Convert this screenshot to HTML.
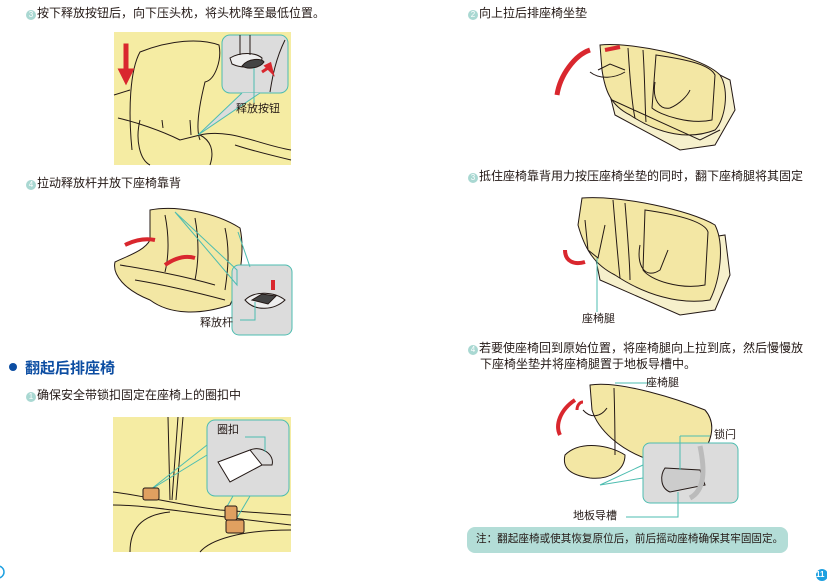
<!DOCTYPE html>
<html><head><meta charset="utf-8"><style>
body{margin:0;width:827px;height:586px;background:#fff;position:relative;overflow:hidden;font-family:"Liberation Sans","Noto Sans CJK SC",sans-serif;color:#231815}
.t{position:absolute;font-size:12px;line-height:15px;white-space:nowrap}
.n{display:inline-block;width:10px;height:10px;border-radius:50%;background:#a9d8d2;color:#fff;font-size:8px;line-height:10px;text-align:center;vertical-align:0px;margin-right:1px}
.l{position:absolute;font-size:11px;line-height:13px;white-space:nowrap}
svg{position:absolute;left:0;top:0}
</style></head><body>
<svg width="827" height="586" viewBox="0 0 827 586">
<g stroke="#231815" stroke-width="1" fill="none">
<!-- image 1 -->
<rect x="114" y="32" width="177" height="133" fill="#f5eca3" stroke="none"/>
<path d="M132 150 C128 110 130 70 140 52 C170 40 200 38 219 45 C222 60 215 80 205 82 C198 110 196 130 200 140" fill="#f5eca3"/>
<path d="M114 95 L130 90 M118 118 C135 122 160 130 180 140 L200 135 C230 128 260 145 291 150"/>
<path d="M140 120 C135 140 140 160 150 165 M200 135 C210 140 215 150 210 165 M162 120 L163 128 M190 120 L191 135"/>
<path d="M235 145 C250 150 270 155 291 160"/>
<rect x="222" y="35" width="66" height="58" rx="8" fill="#dcdcdc" stroke="#4dbdb0"/>
<path d="M240 35 L240 55 M250 35 L250 55 M230 58 C240 52 255 52 262 58 C262 66 245 70 232 64 Z" fill="#eee"/>
<path d="M242 66 C248 58 262 58 264 62 C260 68 248 70 242 66Z" fill="#444"/>
<path d="M285 40 C275 60 272 80 270 92"/>
<path d="M242 93 L198 135 L260 93" stroke="#4dbdb0" fill="#dcdcdc"/>
<path d="M254 68 L254 103" stroke="#4dbdb0"/>
<path d="M125 45 L125 70 L120 70 L126 82 L132 70 L127 70 L127 45Z" fill="#d9272e" stroke="#d9272e" stroke-width="3"/>
<path d="M262 72 L268 68 M266 66 L272 72 L270 64Z" stroke="#d9272e" stroke-width="3" fill="#d9272e"/>
<!-- image 2 -->
<path d="M150 210 C175 205 215 212 240 228 C245 250 240 285 230 305 C200 315 170 315 150 300 C125 290 112 275 115 262 C130 255 145 250 150 240 Z" fill="#f3e7a4"/>
<path d="M120 265 C150 270 180 275 215 285 M135 280 C165 285 195 292 225 300 M165 215 C170 240 168 260 165 272 M195 218 C200 245 198 265 195 280 M225 228 C230 250 228 270 225 290"/>
<rect x="232" y="265" width="60" height="70" rx="7" fill="#dcdcdc" stroke="#4dbdb0"/>
<path d="M175 212 L237 285 L237 270 Z" stroke="#4dbdb0" fill="none"/>
<path d="M238 232 L250 267" stroke="#4dbdb0"/>
<path d="M245 300 C255 290 275 292 285 300 C275 310 255 312 245 300Z" fill="#eee"/>
<path d="M252 300 L262 294 L276 296 L268 304 Z" fill="#444"/>
<path d="M240 320 L255 320 L255 302" stroke="#4dbdb0"/>
<path d="M155 240 C145 238 135 240 125 245" stroke="#d9272e" stroke-width="4"/>
<path d="M195 258 C185 255 175 258 165 265" stroke="#d9272e" stroke-width="4"/>
<path d="M273 290 L273 280" stroke="#d9272e" stroke-width="4"/>
<!-- image 3 -->
<rect x="113" y="417" width="178" height="135" fill="#f5eca3" stroke="none"/>
<path d="M113 492 C140 495 180 505 220 510 L291 515 M113 505 C150 505 200 515 291 525 M130 552 C130 530 140 515 170 512 M200 552 C210 540 240 530 291 530 M168 417 L170 500 M183 417 L176 500 M178 417 L172 500"/>
<rect x="207" y="420" width="82" height="76" rx="8" fill="#dcdcdc" stroke="#4dbdb0"/>
<path d="M150 490 L207 445 L207 455 Z M225 510 L233 496 M237 518 L250 496" stroke="#4dbdb0" fill="none"/>
<path d="M218 462 L250 450 L262 465 L230 482 Z" fill="#fff"/>
<path d="M250 450 C262 445 275 455 272 465 L262 465"/>
<path d="M245 437 L265 437 L265 452" stroke="#4dbdb0"/>
<rect x="143" y="488" width="16" height="12" fill="#e0a060" rx="2"/>
<rect x="225" y="506" width="12" height="14" fill="#e0a060" rx="2"/>
<rect x="226" y="520" width="18" height="13" fill="#e0a060" rx="2"/>
<!-- right image 1 -->
<path d="M610 95 L615 115 L680 150 L715 145 L735 110 L730 80 L720 75 Z" fill="#f6f0cc"/>
<path d="M600 45 C630 42 700 55 720 75 C730 90 725 120 715 130 C690 140 660 135 630 115 C610 105 605 90 602 70Z" fill="#f3e7a4"/>
<path d="M612 100 L700 140 L720 130 M628 48 C630 80 632 105 635 118 M643 50 C645 80 645 110 646 122"/>
<path d="M656 55 C690 60 710 65 715 75 L712 120 C690 125 660 115 652 108Z"/>
<path d="M598 70 L610 64 L625 70 M590 72 C600 80 615 78 625 72 M655 82 C652 100 660 110 670 108 C680 104 688 95 690 90"/>
<path d="M557 95 C560 75 575 55 590 50" stroke="#d9272e" stroke-width="5"/>
<path d="M605 50 L620 47" stroke="#d9272e" stroke-width="4"/>
<!-- right image 2 -->
<path d="M595 255 L600 280 L680 315 L715 310 L730 275 L725 235 Z" fill="#f6f0cc"/>
<path d="M582 198 C620 195 690 210 715 225 C725 245 720 280 710 300 C680 305 645 295 615 275 C595 265 585 250 578 225Z" fill="#f3e7a4"/>
<path d="M613 200 C616 235 618 260 620 278 M625 203 C628 240 630 265 630 280 M645 210 C680 215 705 222 708 232 L705 285 C680 290 650 280 643 270Z"/>
<path d="M585 220 L588 250 L598 258 L605 225 M640 245 C636 265 645 280 660 270 L668 250"/>
<path d="M565 250 C565 262 575 265 585 262" stroke="#d9272e" stroke-width="4"/>
<path d="M597 258 L597 312" stroke="#4dbdb0"/>
<!-- right image 3 -->
<path d="M590 385 C620 380 680 400 705 410 C718 425 710 445 700 455 L650 460 C620 450 598 430 592 410Z" fill="#f3e7a4"/>
<path d="M565 455 C580 440 610 445 625 455 C625 470 610 480 590 478 C570 475 562 468 565 455Z" fill="#f3e7a4"/>
<path d="M583 410 C590 418 600 418 607 408 M614 388 C615 420 615 440 615 455"/>
<path d="M575 400 C560 410 555 425 560 435" stroke="#d9272e" stroke-width="4"/>
<path d="M577 410 C577 405 580 402 583 402" stroke="#d9272e" stroke-width="3"/>
<rect x="643" y="443" width="95" height="60" rx="7" fill="#dcdcdc" stroke="#4dbdb0"/>
<path d="M600 485 L643 465 M600 485 L643 478" stroke="#4dbdb0"/>
<path d="M665 468 L700 470 L705 485 L670 492 C660 488 660 475 665 468Z" fill="#ccc"/>
<path d="M700 446 C705 470 705 490 690 498" stroke-width="5" stroke="#bbb"/>
<path d="M615 383 L650 383" stroke="#4dbdb0"/>
<path d="M680 436 L710 436 M680 436 L680 470 M678 492 L678 517 L626 517" stroke="#4dbdb0"/>
</g>
<circle cx="13" cy="367" r="4" fill="#0c4da2"/>
<circle cx="822" cy="575" r="6" fill="#1ea0e0"/>
<circle cx="-2" cy="572" r="6" fill="none" stroke="#1ea0e0" stroke-width="1.5"/>
<rect x="467" y="527" width="321" height="26" rx="8" fill="#b3ddd7"/>
</svg>
<div class="t" style="left:26px;top:6px"><span class="n">3</span>按下释放按钮后，向下压头枕，将头枕降至最低位置。</div>
<div class="l" style="left:236px;top:103px">释放按钮</div>
<div class="t" style="left:26px;top:176px"><span class="n">4</span>拉动释放杆并放下座椅靠背</div>
<div class="l" style="left:200px;top:317px">释放杆</div>
<div style="position:absolute;left:25px;top:357px;font-size:15px;color:#0c4da2;font-weight:bold;white-space:nowrap">翻起后排座椅</div>
<div class="t" style="left:26px;top:388px"><span class="n">1</span>确保安全带锁扣固定在座椅上的圈扣中</div>
<div class="l" style="left:217px;top:424px">圈扣</div>
<div class="t" style="left:468px;top:6px"><span class="n">2</span>向上拉后排座椅坐垫</div>
<div class="t" style="left:468px;top:169px"><span class="n">3</span>抵住座椅靠背用力按压座椅坐垫的同时，翻下座椅腿将其固定</div>
<div class="l" style="left:582px;top:313px">座椅腿</div>
<div class="t" style="left:468px;top:341px"><span class="n">4</span>若要使座椅回到原始位置，将座椅腿向上拉到底，然后慢慢放</div>
<div class="t" style="left:480px;top:357px">下座椅坐垫并将座椅腿置于地板导槽中。</div>
<div class="l" style="left:646px;top:377px">座椅腿</div>
<div class="l" style="left:714px;top:429px">锁闩</div>
<div class="l" style="left:573px;top:510px">地板导槽</div>
<div class="l" style="left:476px;top:533px;font-size:10.6px">注：翻起座椅或使其恢复原位后，前后摇动座椅确保其牢固固定。</div>
<div style="position:absolute;left:816px;top:570px;font-size:8px;color:#fff;font-weight:bold">11</div>
</body></html>
